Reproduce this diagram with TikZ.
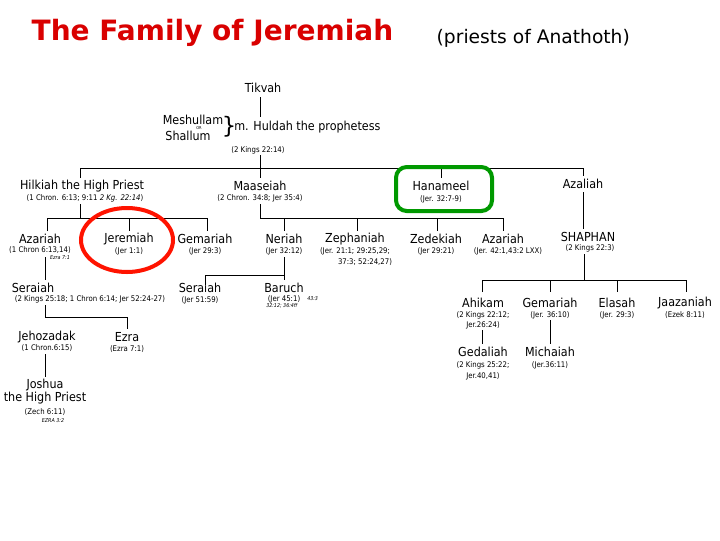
\documentclass[tikz,border=0pt]{standalone}
\usepackage{fontspec}
\setmainfont{DejaVu Sans}
\newfontfamily\condf{DejaVu Sans Condensed}
\begin{document}
\begin{tikzpicture}[x=0.75pt,y=-0.75pt,
  nm/.style={font=\condf\fontsize{9.3}{10}\selectfont,inner sep=0pt},
  rf/.style={font=\condf\fontsize{5.8}{6.5}\selectfont,inner sep=0pt},
  hw/.style={font=\condf\itshape\fontsize{4}{4.5}\selectfont,inner sep=0pt},
  ln/.style={line width=0.7pt}]
\useasboundingbox (0,0) rectangle (720,540);
\node[font=\bfseries\fontsize{21}{24}\selectfont,text=red!85!black,anchor=west] (t1) at (27,33) {The Family of Jeremiah};
\node[font=\fontsize{14}{16}\selectfont,anchor=west] (t2) at (432,38) {(priests of Anathoth)};
% top
\node[nm] (tik) at (263,88) {Tikvah};
\node[nm] (mesh) at (193,120) {Meshullam};
\node[font=\condf\fontsize{3}{3}\selectfont,inner sep=0pt] (or) at (199,128.5) {OR};
\node[nm] (shal) at (188,136) {Shallum};
\node[font=\fontsize{17}{17}\selectfont,inner sep=0pt] (br) at (229,127) {\}};
\node[nm,anchor=west] (hul) at (234,127) {m. Huldah the prophetess};
\node[rf] (k2214) at (258,150) {(2 Kings 22:14)};
\draw[ln] (260,97) -- (260,117);
\draw[ln] (260,155) -- (260,168);
\draw[ln] (80,178) -- (80,168) -- (583,168) -- (583,176);
\draw[ln] (260,168) -- (260,178);
\draw[ln] (441,168) -- (441,178);
% level 2
\node[nm] (hil) at (82,186) {Hilkiah the High Priest};
\node[rf] (hilr) at (85,198) {(1 Chron. 6:13; 9:11 \textit{2 Kg. 22:14})};
\node[nm] (maa) at (260,186) {Maaseiah};
\node[rf] (maar) at (260,198) {(2 Chron. 34:8; Jer 35:4)};
\node[nm] (han) at (441,186) {Hanameel};
\node[rf] (hanr) at (441,199) {(Jer. 32:7-9)};
\node[nm] (aza) at (583,184) {Azaliah};
\draw[green!60!black,line width=3pt,rounded corners=8pt] (396,167) rectangle (492,211);
% Hilkiah children
\draw[ln] (80,204) -- (80,218);
\draw[ln] (47,231) -- (47,218) -- (207,218) -- (207,231);
\draw[ln] (129,218) -- (129,231);
\node[nm] (azr) at (40,239) {Azariah};
\node[rf] (azrr) at (40,250) {(1 Chron 6:13,14)};
\node[hw] (azrn) at (60,258) {Ezra 7:1};
\node[nm] (jer) at (129,239) {Jeremiah};
\node[rf] (jerr) at (129,251) {(Jer 1:1)};
\draw[red!85!orange,line width=3pt] (127,240) ellipse (46 and 32);
\node[nm] (gem) at (205,239) {Gemariah};
\node[rf] (gemr) at (205,251) {(Jer 29:3)};
% Maaseiah children
\draw[ln] (260,204) -- (260,218) -- (503,218) -- (503,231);
\draw[ln] (284,218) -- (284,231);
\draw[ln] (357,218) -- (357,231);
\draw[ln] (437,218) -- (437,231);
\node[nm] (ner) at (284,239) {Neriah};
\node[rf] (nerr) at (284,251) {(Jer 32:12)};
\node[nm] (zep) at (355,239) {Zephaniah};
\node[rf] (zepr) at (355,251) {(Jer. 21:1; 29:25,29;};
\node[rf] (zepr2) at (365,262) {37:3; 52:24,27)};
\node[nm] (zed) at (436,239) {Zedekiah};
\node[rf] (zedr) at (436,251) {(Jer 29:21)};
\node[nm] (az2) at (503,239) {Azariah};
\node[rf] (az2r) at (508,251) {(Jer. 42:1,43:2 LXX)};
% Shaphan
\node[nm] (sha) at (588,237) {SHAPHAN};
\node[rf] (shar) at (590,248) {(2 Kings 22:3)};
\draw[ln] (583,192) -- (583,229);
\draw[ln] (584,254) -- (584,280);
\draw[ln] (482,292) -- (482,280) -- (686,280) -- (686,292);
\draw[ln] (550,280) -- (550,292);
\draw[ln] (617,280) -- (617,292);
\node[nm] (ahi) at (483,303) {Ahikam};
\node[rf] (ahir) at (483,315) {(2 Kings 22:12;};
\node[rf] (ahir2) at (483,325) {Jer.26:24)};
\node[nm] (gm2) at (550,303) {Gemariah};
\node[rf] (gm2r) at (550,315) {(Jer. 36:10)};
\node[nm] (ela) at (617,303) {Elasah};
\node[rf] (elar) at (617,315) {(Jer. 29:3)};
\node[nm] (jaa) at (685,303) {Jaazaniah};
\node[rf] (jaar) at (685,315) {(Ezek 8:11)};
\draw[ln] (482,330) -- (482,344);
\draw[ln] (550,320) -- (550,344);
\node[nm] (ged) at (483,352) {Gedaliah};
\node[rf] (gedr) at (483,365) {(2 Kings 25:22;};
\node[rf] (gedr2) at (483,376) {Jer.40,41)};
\node[nm] (mic) at (550,352) {Michaiah};
\node[rf] (micr) at (550,365) {(Jer.36:11)};
% Neriah children
\draw[ln] (284,257) -- (284,280);
\draw[ln] (205,285) -- (205,275) -- (284,275);
\node[nm] (ser2) at (200,288) {Seraiah};
\node[rf] (ser2r) at (200,300) {(Jer 51:59)};
\node[nm] (bar) at (284,288) {Baruch};
\node[rf] (barr) at (284,299) {(Jer 45:1)};
\node[hw,anchor=west] (barn) at (307,299) {43:3};
\node[hw,anchor=west] (barn2) at (266,306) {32:12; 36:4ff};
% Azariah line
\draw[ln] (45,257) -- (45,280);
\node[nm] (ser) at (33,288) {Seraiah};
\node[rf] (serr) at (90,299) {(2 Kings 25:18; 1 Chron 6:14; Jer 52:24-27)};
\draw[ln] (45,305) -- (45,317) -- (127,317) -- (127,329);
\node[nm] (jeh) at (47,337) {Jehozadak};
\node[rf] (jehr) at (47,348) {(1 Chron.6:15)};
\node[nm] (ezr) at (127,337) {Ezra};
\node[rf] (ezrr) at (127,349) {(Ezra 7:1)};
\draw[ln] (45,354) -- (45,377);
\node[nm] (jos) at (45,385) {Joshua};
\node[nm] (jos2) at (45,398) {the High Priest};
\node[rf] (josr) at (45,412) {(Zech 6:11)};
\node[hw] (josn) at (53,421) {EZRA 3:2};
\end{tikzpicture}
\end{document}
